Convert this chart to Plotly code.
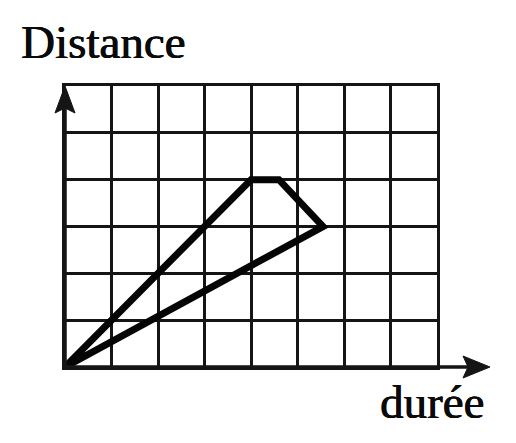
import plotly.graph_objects as go

# Data (grid units: 8 columns of "durée", 6 rows of "Distance")
path_x = [0, 4, 4.6, 5.55, 0]
path_y = [0, 4, 4, 3, 0]
x_max = 8
y_max = 6
y_label = "Distance"
x_label = "durée"

INK = "#151515"
FONT = "Liberation Serif, Times New Roman, serif"

fig = go.Figure()
fig.add_trace(go.Scatter(
    x=path_x, y=path_y, mode="lines",
    line=dict(color="#050505", width=7),
    hoverinfo="skip", showlegend=False, cliponaxis=False,
))

axis_common = dict(
    showgrid=True, gridcolor=INK, gridwidth=3, dtick=1, tick0=0,
    showticklabels=False, ticks="", zeroline=False,
    showline=True, linecolor=INK, linewidth=3, mirror=True, fixedrange=True,
)
fig.update_xaxes(range=[0, x_max], **axis_common)
fig.update_yaxes(range=[0, y_max], **axis_common)

X_TIP = 1.1425  # x-axis arrow tip, paper units

shapes = [
    # x-axis line extended to the arrow
    dict(type="line", xref="paper", yref="paper", x0=0, y0=0, x1=X_TIP - 0.03, y1=0,
         line=dict(color=INK, width=3.5), layer="above"),
    # y-axis line
    dict(type="line", xref="paper", yref="paper", x0=0, y0=0, x1=0, y1=0.97,
         line=dict(color=INK, width=3.5), layer="above"),
    # x arrowhead
    dict(type="path", xref="paper", yref="paper", xsizemode="pixel", ysizemode="pixel",
         xanchor=X_TIP, yanchor=0,
         path="M 0 0 L -27 11 L -22 0 L -27 -11 Z",
         fillcolor=INK, line=dict(color=INK, width=1), layer="above"),
    # y arrowhead
    dict(type="path", xref="paper", yref="paper", xsizemode="pixel", ysizemode="pixel",
         xanchor=0, yanchor=1,
         path="M 0 0 L -10 -27 L 0 -22 L 10 -27 Z",
         fillcolor=INK, line=dict(color=INK, width=1), layer="above"),
]

text_font = dict(family=FONT, size=47, color="#0a0a0a",
                 shadow="0.6px 0 0 #0a0a0a, -0.3px 0 0 #0a0a0a")

annotations = [
    dict(xref="paper", yref="paper", x=-0.1237, y=1.1566, xanchor="left", yanchor="middle",
         text=y_label, showarrow=False, font=text_font),
    dict(xref="paper", yref="paper", x=0.8414, y=-0.1246, xanchor="left", yanchor="middle",
         text=x_label, showarrow=False, font=text_font),
]

fig.update_layout(
    width=500, height=427,
    margin=dict(l=57, r=71, t=78, b=68, autoexpand=False),
    paper_bgcolor="white", plot_bgcolor="white",
    shapes=shapes, annotations=annotations, hovermode=False, showlegend=False,
)

fig.write_html("out.html")
